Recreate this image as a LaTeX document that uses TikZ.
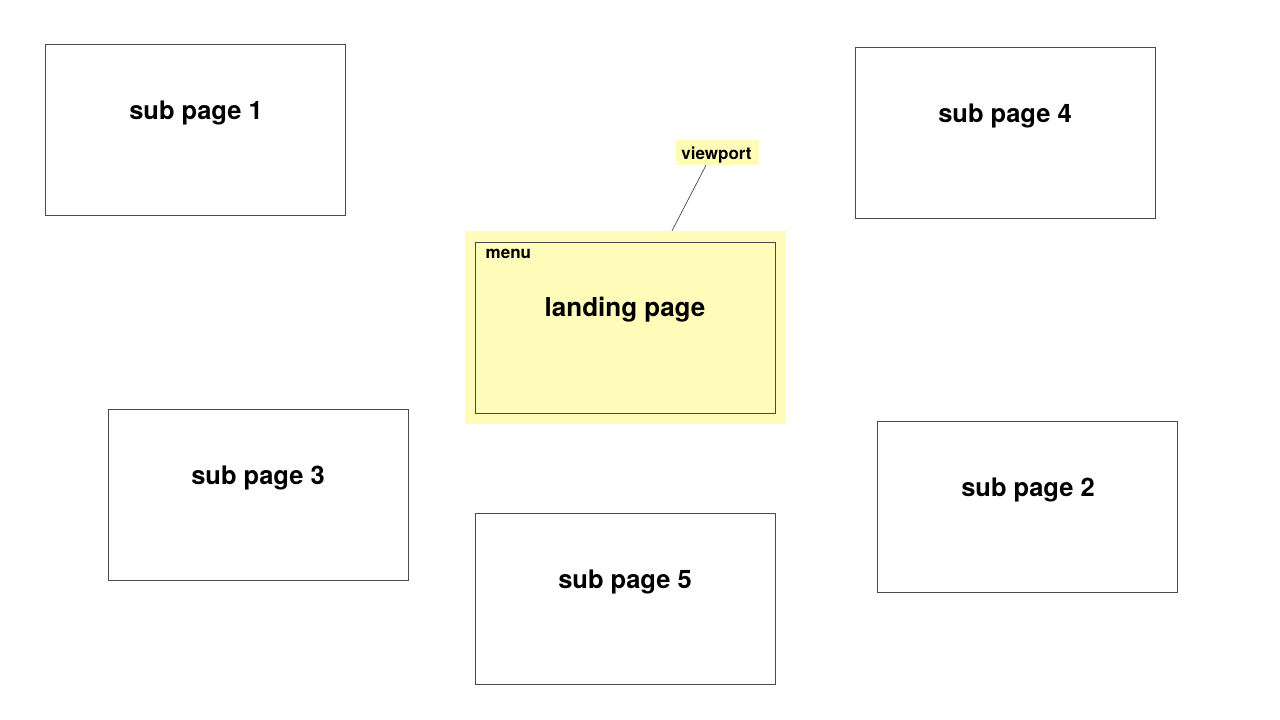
\documentclass[tikz,border=0pt]{standalone}
\usepackage{fontspec}
\setmainfont{TeX Gyre Heros}
\definecolor{vpyellow}{HTML}{FFFCB9}
\definecolor{edge}{HTML}{4A4A4A}
\begin{document}
\begin{tikzpicture}[x=1pt,y=-1pt,
  page/.style={draw=edge, line width=0.8pt, fill=white, rectangle, minimum width=300pt, minimum height=171pt, inner sep=0pt},
  title/.style={font=\bfseries\fontsize{25.5}{26}\selectfont, inner sep=0pt, anchor=center},
  small/.style={font=\bfseries\fontsize{17}{17}\selectfont, inner sep=0pt},
  glow/.style={fill=vpyellow, draw=none, rectangle, inner sep=0pt},
  conn/.style={draw=edge, line width=0.7pt}]
\useasboundingbox (0,0) rectangle (1280,720);
\fill[white] (0,0) rectangle (1280,720);

% landing page with yellow viewport
\node[glow, minimum width=321pt, minimum height=193pt] (vpbox) at (625.5,327.5) {};
\node[page, fill=vpyellow] (land) at (625,327.5) {};
\node[title, font=\bfseries\fontsize{26}{26}\selectfont] (landt) at (625,310) {landing page};
\node[small, anchor=west] (menu) at (485.5,254) {menu};

% viewport label
\node[glow, minimum width=83pt, minimum height=25pt] (vp) at (717.5,152.5) {};
\node[small] (vpt) at (716.5,155) {viewport};
\draw[conn] ([xshift=-11.5pt]vp.south) -- ([xshift=46.5pt]vpbox.north);

% sub pages
\node[page] (p1) at (195,130) {};
\node[title] (p1t) at (196,113) {sub page 1};
\node[page] (p4) at (1005,132.5) {};
\node[title] (p4t) at (1005,116) {sub page 4};
\node[page] (p3) at (258,494.5) {};
\node[title] (p3t) at (258,478) {sub page 3};
\node[page] (p2) at (1027,506.5) {};
\node[title] (p2t) at (1028,490) {sub page 2};
\node[page] (p5) at (625,598.5) {};
\node[title] (p5t) at (625,582) {sub page 5};
\end{tikzpicture}
\end{document}
